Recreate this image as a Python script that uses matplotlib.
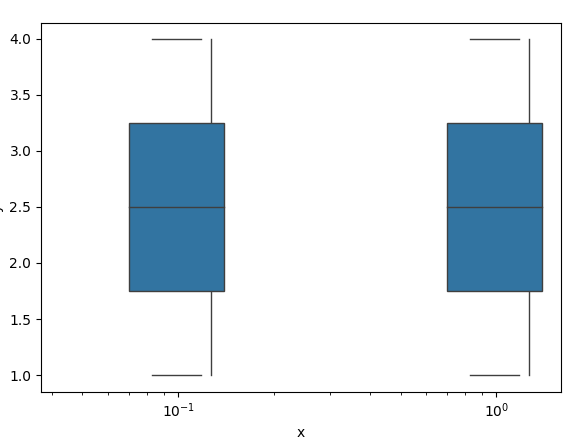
import matplotlib
matplotlib.use("Agg")
import matplotlib.pyplot as plt
from matplotlib.patches import Rectangle
import numpy as np

x_groups = [0.1, 1.0]
y_vals = {0.1: [1, 2, 3, 4], 1.0: [1, 2, 3, 4]}

box_color = "#3274a1"
line_color = "#3f3f3f"

fig = plt.figure(figsize=(5.78, 4.41), dpi=100)
ax = fig.add_axes([0.071, 0.111, 0.9, 0.837])
ax.set_xscale("log")

for xc in x_groups:
    y = np.array(y_vals[xc])
    q1, med, q3 = np.percentile(y, [25, 50, 75])
    lo, hi = y.min(), y.max()
    # offsets in decades, seaborn log-scale layout
    bl, br = xc * 10 ** -0.155, xc * 10 ** 0.144
    wx = xc * 10 ** 0.102
    cl, cr = xc * 10 ** -0.082, xc * 10 ** 0.072
    ax.add_patch(Rectangle((bl, q1), br - bl, q3 - q1, facecolor=box_color,
                           edgecolor=line_color, linewidth=1, zorder=2))
    ax.plot([bl, br], [med, med], color=line_color, lw=1, zorder=3)
    ax.plot([wx, wx], [q3, hi], color=line_color, lw=1, zorder=1)
    ax.plot([wx, wx], [lo, q1], color=line_color, lw=1, zorder=1)
    ax.plot([cl, cr], [hi, hi], color=line_color, lw=1)
    ax.plot([cl, cr], [lo, lo], color=line_color, lw=1)

ax.set_xlim(10 ** -1.431, 10 ** 0.204)
ax.set_ylim(0.848, 4.143)
ax.set_xlabel("x")
ax.set_ylabel("y")
fig.savefig("out.png", dpi=100)
